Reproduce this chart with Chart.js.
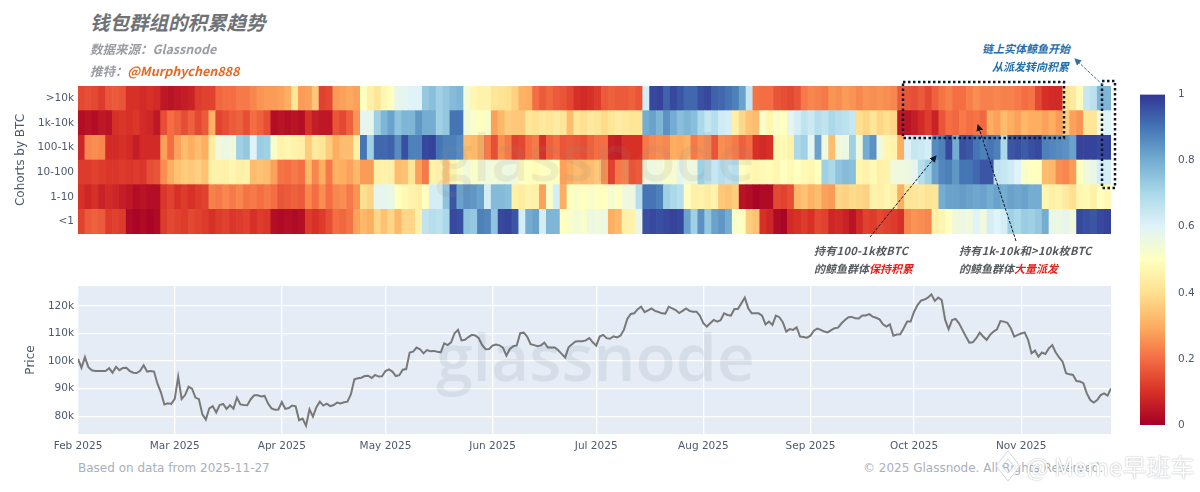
<!DOCTYPE html>
<html>
<head>
<meta charset="utf-8">
<title>钱包群组的积累趋势</title>
<script src="https://cdn.jsdelivr.net/npm/chart.js@4"></script>
<style>
  html, body { margin: 0; padding: 0; background: #fff; width: 1200px; height: 492px; overflow: hidden; }
  canvas { position: absolute; }
  .note { position: absolute; white-space: nowrap; font-family: "Noto Sans CJK SC", sans-serif; font-weight: 700; font-style: italic; }
  .mark { position: absolute; white-space: nowrap; font-family: "Open Sans", sans-serif; font-weight: 600; font-size: 66px; line-height: 66px; }
  .foot { position: absolute; white-space: nowrap; font-family: "DejaVu Sans", sans-serif; font-size: 12px; color: #a9b0ba; top: 461px; }
  svg { position: absolute; left: 0; top: 0; pointer-events: none; }
</style>
</head>
<body>
<canvas id="heat" width="1111" height="176" style="left:0;top:72px;filter:blur(.6px)"></canvas>
<canvas id="price" width="1111" height="184" style="left:0;top:272px"></canvas>
<canvas id="bar" width="70" height="360" style="left:1130px;top:80px"></canvas>

<div class="mark" style="left:436px;top:122px;color:rgba(140,140,140,.13)">glassnode</div>
<div class="mark" style="left:436px;top:322px;color:rgba(90,100,120,.11)">glassnode</div>

<div class="note" style="left:90px;top:7px;font-size:19.5px;color:#6f7276">钱包群组的积累趋势</div>
<div class="note" style="left:90px;top:39px;font-size:12.5px;color:#9a9da3">数据来源：Glassnode</div>
<div class="note" style="left:90px;top:61px;font-size:12.5px;color:#9a9da3">推特：<span style="color:#e8681f">@Murphychen888</span></div>

<div class="note" style="left:982px;top:40px;font-size:11px;color:#1f6fae">链上实体鲸鱼开始</div>
<div class="note" style="left:992px;top:58px;font-size:11px;color:#1f6fae">从派发转向积累</div>
<div class="note" style="left:814px;top:242px;font-size:11px;letter-spacing:.3px;color:#55585e">持有100-1k枚BTC</div>
<div class="note" style="left:814px;top:260px;font-size:11px;color:#55585e">的鲸鱼群体<span style="color:#e3201b">保持积累</span></div>
<div class="note" style="left:959px;top:242px;font-size:11px;letter-spacing:.35px;color:#55585e">持有1k-10k和&gt;10k枚BTC</div>
<div class="note" style="left:959px;top:260px;font-size:11px;color:#55585e">的鲸鱼群体<span style="color:#e3201b">大量派发</span></div>

<div class="foot" style="left:78px">Based on data from 2025-11-27</div>
<div class="foot" style="left:863px">© 2025 Glassnode. All Rights Reserved.</div>

<svg width="1200" height="492">
  <defs>
    <marker id="headDark" markerWidth="7" markerHeight="7" refX="6" refY="3.5" orient="auto"><path d="M0,0 L7,3.5 L0,7 Z" fill="#10182c"/></marker>
    <marker id="headBlue" markerWidth="7" markerHeight="7" refX="6" refY="3.5" orient="auto"><path d="M0,0 L7,3.5 L0,7 Z" fill="#2f6fa5"/></marker>
  </defs>
  <rect x="903" y="82" width="161" height="56" fill="none" stroke="#10182c" stroke-width="2.5" stroke-dasharray="2.5 2.5"/>
  <rect x="1102" y="81" width="13" height="107" fill="none" stroke="#10182c" stroke-width="2.5" stroke-dasharray="2.5 2.5"/>
  <line x1="870" y1="237" x2="936" y2="156" stroke="#10182c" stroke-width="1" stroke-dasharray="3 1.5" marker-end="url(#headDark)"/>
  <line x1="1016" y1="241" x2="978" y2="125" stroke="#10182c" stroke-width="1" stroke-dasharray="3 1.5" marker-end="url(#headDark)"/>
  <line x1="1103" y1="85" x2="1075" y2="59" stroke="#2f6fa5" stroke-width="1" stroke-dasharray="3 1.5" marker-end="url(#headBlue)"/>
  <path d="M1008,451 L1020,466 L1008,481 L996,466 Z M1008,459 L1014,466 L1008,473 L1002,466 Z" fill="#fff" fill-opacity=".8" fill-rule="evenodd" stroke="#c9ccd2" stroke-width=".8"/>
</svg>
<div style="position:absolute;left:1026px;top:451px;font-family:'Noto Sans CJK SC',sans-serif;font-size:24px;line-height:30px;color:#fff;white-space:nowrap;text-shadow:0 0 1.5px #8f939a">@ Meme早班车</div>

<script>
// cohort names, top row first
const cohorts = ['>10k', '1k-10k', '100-1k', '10-100', '1-10', '<1'];

// accumulation score per cohort, one value every two days from 2025-02-01
const scoreGt10k = [.14,.15,.14,.12,.16,.17,.16,.10,.10,.09,.10,.09,.05,.04,.05,.06,.07,.12,.13,.13,.19,.2,.2,.22,.22,.24,.26,.27,.27,.28,.3,.42,.27,.28,.35,.13,.14,.27,.28,.29,.28,.5,
  .45,.42,.47,.5,.58,.58,.6,.6,.74,.76,.72,.74,.77,.78,.54,.47,.46,.46,.42,.41,.4,.37,.31,.3,.2,.17,.19,.17,.16,.14,.1,.09,.1,.12,.17,.18,.17,.17,.18,.16,.62,.97,.98,
  .93,.97,.95,.92,.92,.96,.97,.93,.92,.9,.88,.82,.65,.21,.2,.2,.16,.15,.14,.16,.22,.24,.23,.22,.26,.25,.27,.26,.24,.26,.25,.26,.25,.24,
  .17,.16,.15,.17,.14,.18,.21,.23,.2,.2,.23,.25,.23,.23,.24,.23,.23,.22,.2,.21,.14,.1,.09,.09,.41,.43,.49,.65,.67,.78,.78];
const score1kTo10k = [.03,.04,.03,.05,.04,.1,.11,.1,.11,.09,.08,.05,.15,.2,.18,.15,.18,.14,.17,.31,.13,.15,.17,.18,.15,.2,.18,.15,.03,.04,.03,.04,.03,.1,.06,.05,.05,.16,.14,.18,.26,.58,
  .58,.72,.78,.82,.75,.78,.78,.84,.8,.8,.72,.74,.9,.9,.55,.52,.5,.52,.28,.32,.36,.35,.35,.42,.41,.43,.42,.44,.42,.33,.42,.4,.43,.42,.39,.42,.44,.43,.42,.42,.8,.82,.78,
  .85,.8,.76,.78,.76,.7,.65,.68,.63,.62,.45,.38,.34,.33,.52,.47,.52,.5,.58,.62,.66,.64,.68,.66,.7,.68,.67,.65,.4,.38,.42,.38,.4,.38,
  .05,.04,.06,.09,.12,.07,.16,.2,.19,.22,.2,.21,.19,.3,.28,.33,.3,.28,.32,.3,.3,.28,.3,.27,.36,.28,.26,.42,.42,.55,.6];
const score100To1k = [.08,.24,.25,.24,.09,.09,.1,.09,.06,.09,.09,.09,.28,.2,.28,.33,.3,.33,.3,.44,.55,.56,.55,.72,.74,.6,.73,.72,.52,.46,.47,.46,.45,.36,.43,.42,.36,.3,.33,.33,.45,.9,
  .72,.92,.92,.93,.86,.96,.88,.88,.97,.98,.9,.88,.88,.86,.33,.32,.3,.22,.15,.25,.22,.13,.14,.2,.22,.1,.18,.2,.16,.17,.16,.15,.18,.2,.2,.07,.06,.1,.1,.1,.22,.24,.25,
  .24,.3,.29,.31,.22,.25,.24,.16,.25,.24,.22,.18,.2,.1,.09,.1,.47,.48,.46,.7,.72,.58,.82,.55,.33,.55,.56,.72,.55,.8,.85,.55,.47,.46,
  .3,.6,.65,.64,.62,.86,.88,.97,.8,.96,.95,.9,.88,.9,.88,.7,.95,.96,.94,.96,.97,.88,.87,.86,.85,.82,.98,.98,.98,.97,.98];
const score10To100 = [.12,.12,.13,.12,.11,.11,.12,.11,.12,.11,.15,.16,.25,.3,.34,.36,.35,.37,.34,.45,.46,.45,.47,.45,.46,.33,.34,.33,.28,.21,.2,.22,.2,.32,.24,.3,.22,.31,.3,.28,.32,.27,
  .27,.45,.46,.45,.33,.34,.42,.28,.22,.46,.45,.35,.46,.52,.55,.52,.53,.55,.54,.55,.56,.55,.5,.5,.49,.5,.51,.5,.28,.3,.33,.32,.33,.35,.25,.13,.22,.23,.16,.17,.55,.56,.55,
  .52,.53,.58,.55,.56,.72,.68,.65,.68,.66,.68,.5,.48,.47,.48,.49,.47,.5,.48,.5,.48,.47,.5,.72,.7,.75,.77,.76,.47,.46,.48,.45,.46,.55,
  .55,.56,.58,.68,.72,.82,.87,.88,.84,.9,.9,.92,.95,.95,.66,.65,.63,.6,.52,.5,.5,.33,.32,.25,.24,.27,.5,.55,.57,.62,.62];
const score1To10 = [.1,.08,.1,.07,.09,.08,.06,.05,.03,.04,.03,.03,.11,.13,.1,.12,.1,.12,.13,.23,.22,.24,.22,.24,.21,.22,.2,.22,.2,.16,.17,.18,.17,.24,.2,.25,.2,.24,.25,.22,.26,.4,
  .38,.58,.58,.57,.5,.48,.46,.45,.5,.62,.62,.75,.95,.82,.85,.84,.82,.62,.77,.77,.76,.45,.44,.46,.45,.28,.52,.62,.3,.5,.52,.5,.52,.5,.5,.53,.5,.55,.56,.68,.9,.9,.88,
  .72,.7,.68,.5,.45,.46,.44,.46,.35,.34,.36,.04,.03,.01,.02,.02,.14,.13,.15,.32,.34,.31,.33,.28,.27,.38,.37,.39,.38,.37,.46,.45,.47,.45,
  .3,.42,.42,.43,.41,.42,.8,.82,.82,.83,.82,.81,.82,.8,.82,.8,.82,.81,.82,.8,.8,.47,.45,.46,.43,.4,.47,.48,.45,.5,.48];
const scoreLt1 = [.13,.17,.18,.17,.12,.13,.12,.02,.01,.02,.01,.02,.12,.14,.13,.12,.14,.13,.12,.1,.12,.13,.11,.12,.13,.1,.12,.11,.03,.02,.03,.02,.03,.12,.1,.12,.15,.2,.19,.21,.28,.32,
  .3,.38,.34,.38,.32,.38,.38,.45,.66,.68,.67,.7,.97,.96,.75,.74,.88,.87,.75,.97,.98,.95,.62,.8,.82,.62,.78,.78,.5,.52,.54,.52,.56,.55,.56,.3,.32,.45,.46,.57,.96,.97,.96,
  .97,.98,.97,.82,.72,.85,.74,.82,.84,.8,.52,.5,.36,.34,.1,.08,.02,.01,.09,.1,.12,.1,.14,.13,.08,.09,.07,.04,.09,.13,.12,.14,.13,.12,
  .1,.24,.26,.25,.24,.45,.47,.5,.55,.56,.55,.6,.55,.62,.6,.62,.72,.7,.73,.72,.74,.8,.57,.56,.58,.55,.97,.96,.95,.97,.98];

// BTC price in thousand USD, daily from 2025-02-01
const price = [100.8,97.6,101.4,97.8,96.7,96.4,96.4,96.4,96.4,97.4,95.8,97.9,96.7,97.5,97.6,96.4,95.8,95.7,96.5,98.5,96.2,96.4,96.2,91.8,88.7,84.3,84.7,84.5,
  86.3,94.3,86.3,87.7,90.7,90,86.8,86.2,80.7,78.8,82.9,83.7,81.4,84.1,84.5,82.7,84,82.8,86.8,84.3,84.1,84,86.2,87.6,87.6,87.2,87.4,84.7,82.9,82.4,82.5,
  85.2,82.7,83,83.9,83.6,78.6,79.2,76.6,82.5,79.9,83.3,85.3,83.9,84.6,83.7,84.1,85,84.7,85.1,85.3,88,93.4,93.8,94,94.6,94.7,93.9,95,94.4,94.5,
  96.4,97,96.2,94.6,94.9,96.9,97.1,103.1,103.4,104.9,104.3,102.8,104,103.6,103.7,103.4,103.2,106.4,105.8,106.8,110.1,111.3,107.5,107.7,108.7,109.5,109.3,108.3,105.8,104.3,104.4,
  105.6,106,105.7,104.9,102,104.4,105.4,105.7,110.1,110.3,108.9,106.1,105.8,105.4,105.7,106.7,104.9,104.9,104.9,103.9,102.6,101.3,105,106.1,107.1,107.2,107.2,107.5,108.3,106.8,
  105.6,108.9,109.5,108.3,108.1,109,108.6,109.2,111.3,115.3,117.1,117.3,118.8,119.7,117.7,118.4,119.1,118.2,117.8,117.3,117.2,119.7,119.1,118.5,117.4,118.2,119.1,118.2,117.9,117.9,116.5,
  113.7,112.5,113.7,114.9,114.3,114.8,117.3,116.7,116.5,118.9,118.9,120.9,123,119.1,117.3,117.3,117.3,116.5,113.3,114.3,113.1,116.5,115.9,114.1,110.7,111.6,111.3,112.2,108.9,108.7,108.5,
  109.2,111,111.8,111.3,110.7,110.4,111.2,111.9,112.1,113.7,114.9,115.9,116,115.5,115.4,116.5,116.5,117,116.1,115.7,115.1,113.3,112.5,113.3,109.2,109.6,109.7,111.9,114.3,114.3,
  117.9,120.3,121.9,122.3,123,124.2,121.8,123,122.1,114.9,111.6,114.9,115.3,113.7,111.3,108.9,106.7,106.8,108.3,110.3,108.9,107.7,109.5,110.7,111.5,114.5,114.3,113.9,111.9,108.9,109.5,
  110,110.4,107.7,102.8,103.8,101.6,103.1,102.6,104.6,105.8,103.1,101.3,99.8,95.6,95.2,95,92.8,92.6,92,88.3,85.9,85,85.9,87.7,88.3,87.5,90.1];

// month ticks on the price axis: day index and label
const monthDays = [0, 28, 59, 89, 120, 150, 181, 212, 242, 273];
const monthLabels = ['Feb 2025', 'Mar 2025', 'Apr 2025', 'May 2025', 'Jun 2025', 'Jul 2025', 'Aug 2025', 'Sep 2025', 'Oct 2025', 'Nov 2025'];
const priceTicks = [80, 90, 100, 110, 120];
const barTicks = [0, 0.2, 0.4, 0.6, 0.8, 1];

// RdYlBu colour scale, 0 to 1
const scale = [[165,0,38],[215,48,39],[244,109,67],[253,174,97],[254,224,144],[255,255,191],[224,243,248],[171,217,233],[116,173,209],[69,117,180],[49,54,149]];

function scoreColor(v) {
  const p = Math.min(v, 0.9999) * 10;
  const i = Math.floor(p), f = p - i;
  const c = scale[i].map((a, k) => Math.round(a + (scale[i + 1][k] - a) * f));
  return `rgb(${c[0]},${c[1]},${c[2]})`;
}

const tickFont = { family: '"DejaVu Sans", sans-serif', size: 10.5 };
const tickColor = '#4d5a6e';
Chart.defaults.animation = false;
Chart.defaults.responsive = false;
Chart.defaults.plugins.legend.display = false;
Chart.defaults.plugins.tooltip.enabled = false;

// heatmap as stacked bars, bottom row first
const rows = [scoreLt1, score1To10, score10To100, score100To1k, score1kTo10k, scoreGt10k];
new Chart(document.getElementById('heat'), {
  type: 'bar',
  data: {
    labels: scoreGt10k.map((_, i) => i),
    datasets: rows.map(r => ({
      data: r.map(() => 1),
      backgroundColor: r.map(scoreColor),
      barPercentage: 1,
      categoryPercentage: 1,
      borderWidth: 0
    }))
  },
  options: {
    layout: { padding: { top: 14, bottom: 14 } },
    scales: {
      x: { stacked: true, display: false },
      y: {
        stacked: true,
        min: 0,
        max: 6,
        grid: { display: false, drawTicks: false },
        border: { display: false },
        afterFit: s => { s.width = 78; },
        afterBuildTicks: s => { s.ticks = cohorts.map((_, i) => ({ value: i + 0.5 })); },
        ticks: {
          font: tickFont,
          color: tickColor,
          padding: 4,
          callback: v => cohorts[5 - Math.floor(v)]
        },
        title: { display: true, text: 'Cohorts by BTC', color: tickColor, font: { family: tickFont.family, size: 12 }, padding: { top: 14, bottom: 0 } }
      }
    }
  }
});

// plot background for the price panel
const panelBg = {
  id: 'panelBg',
  beforeDraw(chart) {
    const a = chart.chartArea;
    chart.ctx.fillStyle = '#e5ecf6';
    chart.ctx.fillRect(a.left, a.top, a.width, a.height);
  }
};

new Chart(document.getElementById('price'), {
  type: 'line',
  plugins: [panelBg],
  data: {
    datasets: [{
      data: price.map((y, x) => ({ x, y })),
      borderColor: '#787878',
      borderWidth: 2,
      pointRadius: 0,
      tension: 0
    }]
  },
  options: {
    layout: { padding: { top: 14, bottom: 0 } },
    scales: {
      x: {
        type: 'linear',
        min: 0,
        max: 299,
        grid: { color: '#fff', lineWidth: 1.3, drawTicks: false },
        border: { display: false },
        afterFit: s => { s.height = 22; },
        afterBuildTicks: s => { s.ticks = monthDays.map(value => ({ value })); },
        ticks: {
          font: tickFont,
          color: tickColor,
          padding: 6,
          maxRotation: 0,
          autoSkip: false,
          callback: v => monthLabels[monthDays.indexOf(v)]
        }
      },
      y: {
        min: 73.6,
        max: 127.2,
        grid: { color: '#fff', lineWidth: 1.3, drawTicks: false },
        border: { display: false },
        afterFit: s => { s.width = 78; },
        afterBuildTicks: s => { s.ticks = priceTicks.map(value => ({ value })); },
        ticks: {
          font: tickFont,
          color: tickColor,
          padding: 4,
          callback: v => v + 'k'
        },
        title: { display: true, text: 'Price', color: tickColor, font: { family: tickFont.family, size: 12 }, padding: { top: 24, bottom: 0 } }
      }
    }
  }
});

// colour bar: a single bar from 0 to 1 filled with the same scale
new Chart(document.getElementById('bar'), {
  type: 'bar',
  data: {
    labels: [''],
    datasets: [{
      data: [[0, 1]],
      barPercentage: 1,
      categoryPercentage: 1,
      borderWidth: 0,
      backgroundColor(ctx) {
        const a = ctx.chart.chartArea;
        if (!a) return '#fff';
        const g = ctx.chart.ctx.createLinearGradient(0, a.bottom, 0, a.top);
        scale.forEach((c, i) => g.addColorStop(i / 10, `rgb(${c[0]},${c[1]},${c[2]})`));
        return g;
      }
    }]
  },
  options: {
    layout: { padding: { left: 10, top: 14.5, bottom: 15, right: 0 } },
    scales: {
      x: { display: false },
      y: {
        position: 'right',
        min: 0,
        max: 1,
        grid: { display: false },
        border: { display: false },
        afterFit: s => { s.width = 35; },
        afterBuildTicks: s => { s.ticks = barTicks.map(value => ({ value })); },
        ticks: { font: tickFont, color: tickColor, padding: 5, callback: v => String(v) }
      }
    }
  }
});
</script>
</body>
</html>
